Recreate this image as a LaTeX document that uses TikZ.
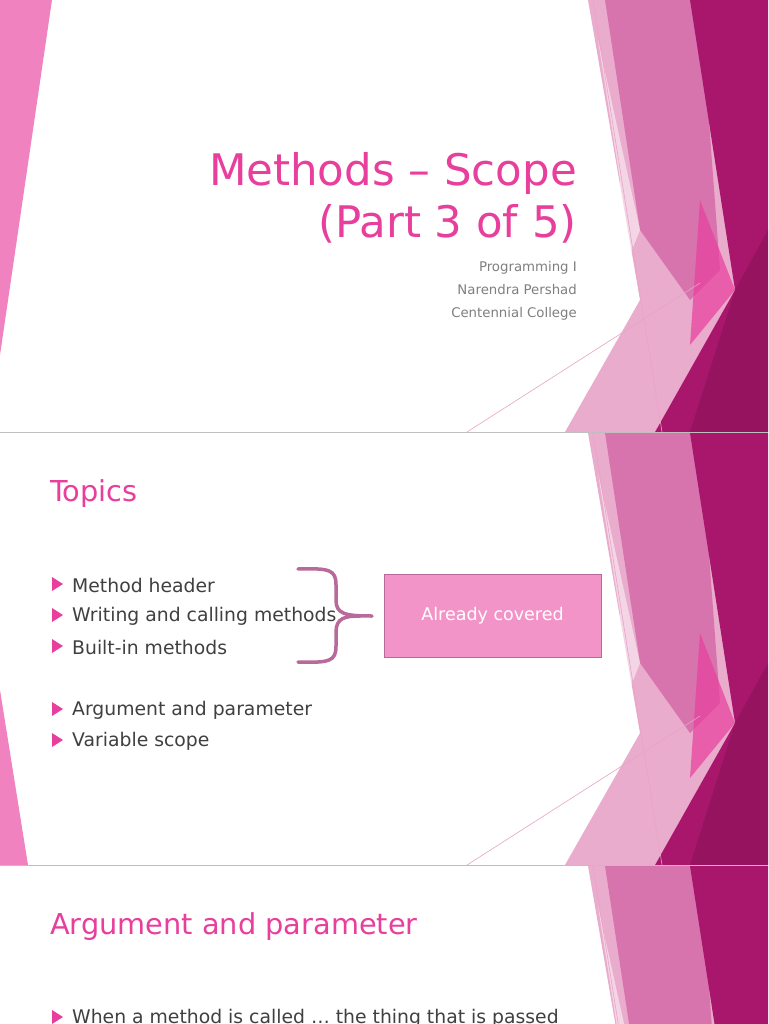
\documentclass[tikz,border=0pt]{standalone}
\usepackage{fontspec}
\setmainfont{DejaVu Sans}
\definecolor{ttl}{HTML}{E83E9C}
\definecolor{dk}{HTML}{A8176B}
\definecolor{md}{HTML}{D46BA8}
\definecolor{lt}{HTML}{E8A3C8}
\definecolor{txt}{HTML}{404040}
\definecolor{sub}{HTML}{7F7F7F}
\definecolor{brc}{HTML}{B86A9A}
\definecolor{boxf}{HTML}{F294C8}
\tikzset{
 ttlnode/.style={text=ttl,font=\fontsize{43.5}{52}\selectfont,align=right,anchor=north east,inner sep=0},
 subnode/.style={text=sub,font=\fontsize{13.3}{23}\selectfont,align=right,anchor=north east,inner sep=0},
 headnode/.style={text=ttl,font=\fontsize{28.8}{32}\selectfont,anchor=west,inner sep=0},
 bul/.style={text=txt,font=\fontsize{18.8}{22}\selectfont,anchor=west,inner sep=0},
 tri/.style={fill=ttl,draw=none},
}
\newcommand{\decoR}[1]{%
 \begin{scope}[yshift=-#1pt]
 \fill[lt,opacity=.9] (588,0)--(700,0)--(735,290)--(655,432)--(565,432)--(640,300)--cycle;
 \fill[md,opacity=.85] (605,0)--(700,0)--(720,270)--(690,300)--(640,230)--cycle;
 \fill[white,opacity=.5] (598,40)--(640,230)--(600,330)--(620,180)--cycle;
 \fill[ttl,opacity=.7] (700,200)--(735,290)--(690,345)--cycle;
 \fill[dk] (690,0)--(768,0)--(768,432)--(655,432)--(735,290)--cycle;
 \fill[black!30!dk,opacity=.35] (735,290)--(768,230)--(768,432)--(690,432)--cycle;
 \draw[lt,line width=.6pt] (593,0)--(662,432);
 \draw[lt,line width=.6pt] (467,432)--(700,283);
 \end{scope}}
\begin{document}
\begin{tikzpicture}[x=1pt,y=-1pt]
\useasboundingbox (0,0) rectangle (768,1024);
\clip (0,0) rectangle (768,1024);
\fill[white] (0,0) rectangle (768,1024);
\decoR{0}\decoR{433}\decoR{866}
\fill[ttl!80,opacity=.8] (0,0)--(52,0)--(0,355)--cycle;
\fill[ttl!80,opacity=.8] (0,690)--(28,865)--(0,865)--cycle;
\draw[gray!50,line width=1pt] (0,432.5)--(768,432.5);
\draw[gray!50,line width=1pt] (0,865.5)--(768,865.5);
% slide 1
\node[ttlnode] (t1) at (577,152) {Methods -- Scope\\(Part 3 of 5)};
\node[subnode] (s1) at (577,261) {Programming I\\Narendra Pershad\\Centennial College};
% slide 2
\node[headnode] (h2) at (50,494) {Topics};
\foreach \y/\t [count=\i] in {585/Method header,616/Writing and calling methods,647/Built-in methods,710/Argument and parameter,741/Variable scope}{
 \fill[tri] (52,\y-8)--(63,\y-1)--(52,\y+6)--cycle;
 \node[bul] (b\i) at (72,\y) {\t};
}
\fill[white] (337,600) rectangle (345,630);
\draw[brc,line width=3.5pt,line cap=round] (298,569) .. controls (330,568) and (336,570) .. (336,585) -- (336,600) .. controls (336,614) and (345,616) .. (372,616);
\draw[brc,line width=3.5pt,line cap=round] (298,662) .. controls (330,663) and (336,661) .. (336,646) -- (336,632) .. controls (336,618) and (345,616) .. (360,616);
\node[draw=brc,fill=boxf,line width=1pt,minimum width=217pt,minimum height=83pt,text=white,font=\fontsize{17.5}{20}\selectfont,inner sep=0] (box) at (492.5,616) {Already covered};
% slide 3
\node[headnode] (h3) at (50,927) {Argument and parameter};
\fill[tri] (52,1010)--(63,1017)--(52,1024)--cycle;
\node[bul] (b6) at (72,1018) {When a method is called … the thing that is passed};
\end{tikzpicture}
\end{document}
